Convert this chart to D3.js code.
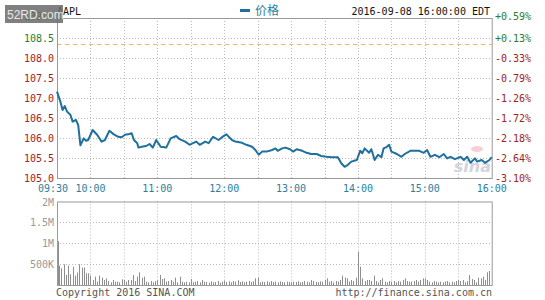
<!DOCTYPE html>
<html>
<head>
<meta charset="utf-8">
<script src="https://cdn.jsdelivr.net/npm/d3@7/dist/d3.min.js"></script>
<style>
body { margin: 0; background: #fff; }
text { font-family: "DejaVu Sans Mono", monospace; font-size: 10px; }
</style>
</head>
<body>
<svg id="chart"></svg>
<script>
const symbol = "AAPL"
const legendLabel = "价格"
const stamp = "2016-09-08 16:00:00 EDT"
const prevClose = 108.36

const priceTicks = [105.0, 105.5, 106.0, 106.5, 107.0, 107.5, 108.0, 108.5, 109.0]
const pctLabels = ["-3.10%", "-2.64%", "-2.18%", "-1.72%", "-1.26%", "-0.79%", "-0.33%", "+0.13%", "+0.59%"]
const timeTicks = [0, 30, 90, 150, 210, 270, 330, 390]
const timeLabels = ["09:30", "10:00", "11:00", "12:00", "13:00", "14:00", "15:00", "16:00"]
const volumeTicks = [500000, 1000000, 1500000, 2000000]
const volumeLabels = ["500K", "1M", "1.5M", "2M"]

// minutes after 09:30
const priceMinutes = [0, 3, 5, 7, 9, 12, 14, 17, 19, 21, 24, 26, 28, 32, 36, 40, 43, 47, 51, 55,
  58, 61, 65, 67, 69, 72, 73, 76, 80, 83, 86, 89, 91, 93, 98, 102, 107, 110, 115, 119,
  122, 125, 128, 133, 136, 140, 145, 148, 152, 157, 160, 166, 170, 175, 178, 181, 184, 188, 193, 196,
  198, 202, 205, 209, 212, 215, 220, 224, 228, 233, 237, 242, 246, 252, 255, 258, 261, 264, 269, 272,
  274, 276, 280, 282, 285, 288, 291, 293, 296, 298, 300, 305, 309, 312, 317, 321, 325, 329, 332, 335,
  339, 343, 347, 350, 353, 357, 362, 365, 368, 371, 375, 377, 381, 384, 388, 390]
const prices = [107.16, 106.91, 106.70, 106.80, 106.66, 106.58, 106.41, 106.45, 106.33, 105.82, 105.99, 105.93, 105.95, 106.20, 106.08, 105.91, 105.95, 106.18, 106.09, 106.03,
  106.02, 106.08, 106.10, 106.12, 105.95, 105.87, 105.76, 105.78, 105.80, 105.85, 105.76, 105.95, 105.87, 105.78, 105.76, 105.99, 106.05, 105.97, 105.91, 105.83,
  105.87, 105.91, 105.83, 105.91, 105.87, 106.03, 105.95, 106.02, 106.09, 105.95, 105.91, 105.88, 105.83, 105.78, 105.70, 105.58, 105.66, 105.66, 105.70, 105.74,
  105.68, 105.74, 105.76, 105.72, 105.66, 105.72, 105.68, 105.63, 105.60, 105.60, 105.55, 105.53, 105.52, 105.52, 105.37, 105.28, 105.33, 105.41, 105.45, 105.68,
  105.62, 105.74, 105.63, 105.72, 105.45, 105.58, 105.52, 105.74, 105.78, 105.83, 105.66, 105.60, 105.53, 105.60, 105.68, 105.68, 105.68, 105.63, 105.70, 105.53,
  105.58, 105.52, 105.60, 105.49, 105.53, 105.47, 105.53, 105.45, 105.53, 105.38, 105.49, 105.41, 105.45, 105.38, 105.45, 105.52]

// volume in thousands, one bar every 2 minutes
const volumes = [
  1050, 464, 400, 496, 240, 464, 256, 440, 224, 300, 496, 416, 416, 280, 280,
  224, 120, 200, 80, 224, 176, 120, 160, 96, 64, 120, 80, 80, 64, 136,
  120, 80, 120, 120, 240, 96, 200, 304, 176, 200, 80, 64, 96, 64, 96,
  120, 240, 144, 160, 80, 96, 120, 80, 176, 64, 200, 80, 64, 80, 64,
  144, 64, 80, 96, 64, 120, 80, 72, 56, 88, 64, 72, 96, 56, 80,
  104, 72, 88, 64, 96, 80, 112, 72, 88, 64, 80, 96, 72, 88, 160,
  176, 64, 80, 72, 88, 64, 96, 72, 80, 64, 88, 72, 64, 80, 72,
  64, 80, 72, 88, 64, 72, 96, 80, 64, 120, 96, 72, 64, 88, 80,
  120, 160, 80, 96, 64, 96, 80, 120, 224, 176, 160, 80, 120, 96, 176,
  800, 440, 160, 96, 120, 120, 96, 224, 96, 64, 120, 160, 80, 64, 96,
  80, 96, 64, 96, 80, 120, 160, 96, 80, 80, 96, 120, 80, 120, 160,
  160, 120, 80, 64, 96, 80, 64, 80, 64, 80, 96, 64, 80, 64, 96,
  120, 96, 120, 64, 96, 240, 144, 120, 64, 176, 160, 200, 120, 304, 336]

const width = 545, height = 300
const plot = {left: 57, right: 491.7, top: 18, bottom: 178},
      vol = {top: 201.5, bottom: 285}
const green = "#2b7d2b", red = "#a3221f", teal = "#2a7fa0", lineColor = "#1f6f9f"

const x = d3.scaleLinear().domain([0, 390]).range([plot.left, plot.right])
const y = d3.scaleLinear().domain([105, 109]).range([plot.bottom, plot.top])
const yVol = d3.scaleLinear().domain([0, 2000000]).range([vol.bottom, vol.top])

const svg = d3.select("#chart")
    .attr("width", width)
    .attr("height", height)

const gridMinutes = d3.range(30, 390, 30)

// price grid
svg.append("g").selectAll("line")
    .data(priceTicks.slice(1, -1))
    .enter().append("line")
    .attr("x1", plot.left).attr("x2", plot.right)
    .attr("y1", d => y(d) + 0.5).attr("y2", d => y(d) + 0.5)
    .attr("stroke", "#bbb").attr("stroke-dasharray", "1,2")
svg.append("g").selectAll("line")
    .data(gridMinutes)
    .enter().append("line")
    .attr("x1", d => Math.round(x(d)) + 0.5).attr("x2", d => Math.round(x(d)) + 0.5)
    .attr("y1", plot.top).attr("y2", plot.bottom)
    .attr("stroke", "#bbb").attr("stroke-dasharray", "1,2")

// previous close
svg.append("line")
    .attr("x1", plot.left).attr("x2", plot.right)
    .attr("y1", Math.round(y(prevClose)) + 0.5).attr("y2", Math.round(y(prevClose)) + 0.5)
    .attr("stroke", "#f2b84b").attr("stroke-dasharray", "4,4")

// frame
svg.append("rect")
    .attr("x", plot.left + 0.5).attr("y", plot.top + 0.5)
    .attr("width", plot.right - plot.left).attr("height", plot.bottom - plot.top)
    .attr("fill", "none").attr("stroke", "#999")

// sina mark
svg.append("ellipse")
    .attr("cx", 477).attr("cy", 149).attr("rx", 6).attr("ry", 3)
    .attr("fill", "#f3b8c4").attr("opacity", 0.7)
svg.append("text")
    .attr("x", 491).attr("y", 172)
    .attr("text-anchor", "end")
    .style("font-family", "DejaVu Sans")
    .style("font-size", "16px")
    .style("font-style", "italic")
    .style("font-weight", "bold")
    .attr("fill", "#c9c9d3").attr("opacity", 0.8)
    .text("sina")

// price line
const line = d3.line()
    .x((d, i) => x(priceMinutes[i]))
    .y(d => y(d))
svg.append("path")
    .datum(prices)
    .attr("d", line)
    .attr("fill", "none")
    .attr("stroke", lineColor)
    .attr("stroke-width", 2)
    .attr("stroke-linejoin", "round")

// left price labels
svg.append("g").selectAll("text")
    .data(priceTicks)
    .enter().append("text")
    .attr("x", 54)
    .attr("y", (d, i) => y(d) + 4 - (i === priceTicks.length - 1 ? 2 : 0))
    .attr("text-anchor", "end")
    .attr("fill", d => d > prevClose ? green : red)
    .text(d => d.toFixed(1))

// right percent labels
svg.append("g").selectAll("text")
    .data(priceTicks)
    .enter().append("text")
    .attr("x", 495)
    .attr("y", (d, i) => y(d) + 4 - (i === priceTicks.length - 1 ? 2 : 0))
    .attr("fill", d => d > prevClose ? green : red)
    .text((d, i) => pctLabels[i])

// time labels
svg.append("g").selectAll("text")
    .data(timeTicks)
    .enter().append("text")
    .attr("x", (d, i) => x(d) + (i === 0 ? -4 : 0))
    .attr("y", 192)
    .attr("text-anchor", "middle")
    .attr("fill", teal)
    .text((d, i) => timeLabels[i])

// header
svg.append("text")
    .attr("x", 57).attr("y", 15)
    .attr("fill", "#111")
    .text(symbol)
svg.append("line")
    .attr("x1", 240).attr("x2", 250)
    .attr("y1", 10.5).attr("y2", 10.5)
    .attr("stroke", lineColor).attr("stroke-width", 3)
svg.append("text")
    .attr("x", 255).attr("y", 15)
    .style("font-family", "Noto Sans CJK SC")
    .style("font-size", "12px")
    .attr("fill", teal)
    .text(legendLabel)
svg.append("text")
    .attr("x", 490).attr("y", 15)
    .attr("text-anchor", "end")
    .attr("fill", "#111")
    .text(stamp)

// volume grid
svg.append("g").selectAll("line")
    .data(volumeTicks.slice(0, -1))
    .enter().append("line")
    .attr("x1", plot.left).attr("x2", plot.right)
    .attr("y1", d => Math.round(yVol(d)) + 0.5).attr("y2", d => Math.round(yVol(d)) + 0.5)
    .attr("stroke", "#bbb").attr("stroke-dasharray", "1,2")
svg.append("g").selectAll("line")
    .data(gridMinutes)
    .enter().append("line")
    .attr("x1", d => Math.round(x(d)) + 0.5).attr("x2", d => Math.round(x(d)) + 0.5)
    .attr("y1", vol.top).attr("y2", vol.bottom)
    .attr("stroke", "#bbb").attr("stroke-dasharray", "1,2")

// volume bars
svg.append("g").selectAll("rect")
    .data(volumes)
    .enter().append("rect")
    .attr("x", (d, i) => Math.round(x(i * 2)))
    .attr("width", (d, i) => i === 0 ? 2 : 1)
    .attr("y", d => yVol(d * 1000))
    .attr("height", d => vol.bottom - yVol(d * 1000))
    .attr("fill", "#8e8e8e")

svg.append("rect")
    .attr("x", plot.left + 0.5).attr("y", vol.top + 0.5)
    .attr("width", plot.right - plot.left).attr("height", vol.bottom - vol.top)
    .attr("fill", "none").attr("stroke", "#999")

svg.append("g").selectAll("text")
    .data(volumeTicks)
    .enter().append("text")
    .attr("x", 54)
    .attr("y", d => yVol(d) + 4)
    .attr("text-anchor", "end")
    .attr("fill", "#999")
    .text((d, i) => volumeLabels[i])

// footer
svg.append("text")
    .attr("x", 56).attr("y", 296)
    .attr("fill", "#555")
    .text("Copyright 2016 SINA.COM")
svg.append("text")
    .attr("x", 492).attr("y", 296)
    .attr("text-anchor", "end")
    .attr("fill", "#555")
    .text("http://finance.sina.com.cn")

// site watermark (sits over the top label, as in the source image)
svg.append("rect")
    .attr("x", 5).attr("y", 5).attr("width", 58).attr("height", 18)
    .attr("fill", "#6a6a6a").attr("opacity", 0.85)
svg.append("text")
    .attr("x", 7).attr("y", 19)
    .style("font-family", "Liberation Sans")
    .style("font-size", "12px")
    .attr("fill", "#e8e8e8")
    .text("52RD.com")
</script>
</body>
</html>
